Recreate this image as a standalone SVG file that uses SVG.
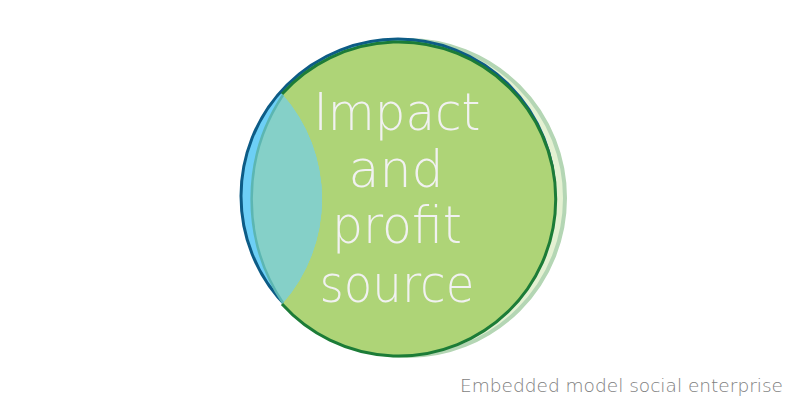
<svg xmlns="http://www.w3.org/2000/svg" width="800" height="400" viewBox="0 0 800 400">
<style>
.title{font-family:"DejaVu Sans","Lato","Liberation Sans",sans-serif;font-weight:200;font-size:51px;fill:#F1F1F1;text-anchor:middle}
.cap{font-family:"DejaVu Sans","Lato","Liberation Sans",sans-serif;font-weight:200;font-size:18px;fill:#7E7E7E}
</style>
<rect width="800" height="400" fill="#FFFFFF"/>
<g id="shadow">
<circle cx="407" cy="198" r="158" fill="#E4F1D2" stroke="#B4D6B4" stroke-width="4"/>
</g>
<g id="social-program">
<circle cx="398" cy="196" r="157" fill="#6DCFF6" stroke="#0D5C86" stroke-width="3"/>
</g>
<g id="business">
<path d="M282,94 A157,157 0 1 1 282,304 A158,158 0 0 0 282,94 Z" fill="#AED477"/>
<path d="M282,94 A157,157 0 1 1 282,304" fill="none" stroke="#1C7C37" stroke-width="3"/>
</g>
<g id="overlap">
<path d="M283,95 A158,158 0 0 1 283,303 A188,188 0 0 1 283,95 Z" fill="#85D0C8"/>
<path d="M283,303 A188,188 0 0 1 283,95" fill="none" stroke="#5CB6B2" stroke-width="2.5"/>
</g>
<g id="labels">
<text class="title" x="397" y="130" textLength="167" lengthAdjust="spacingAndGlyphs">Impact</text>
<text class="title" x="396" y="187" textLength="95" lengthAdjust="spacingAndGlyphs">and</text>
<text class="title" x="397" y="243" textLength="130" lengthAdjust="spacingAndGlyphs">profit</text>
<text class="title" x="397" y="302" textLength="155" lengthAdjust="spacingAndGlyphs">source</text>
<text class="cap" x="460" y="392" textLength="323" lengthAdjust="spacingAndGlyphs">Embedded model social enterprise</text>
</g>
</svg>
